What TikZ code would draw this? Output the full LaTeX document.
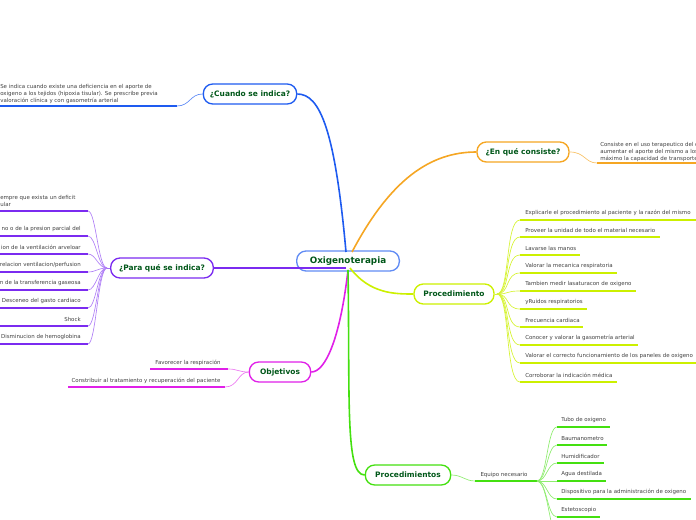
\documentclass[tikz,border=0pt]{standalone}
\usepackage{fontspec}
\setmainfont{DejaVu Sans}
\begin{document}
\begin{tikzpicture}[x=0.75pt,y=-0.75pt,
  main/.style={draw,rounded corners=7pt,line width=1pt,fill=white,minimum height=15pt,font=\fontsize{5.6}{7}\selectfont\bfseries,text=green!30!black!80!teal},
  leaf/.style={font=\fontsize{4.1}{5.2}\selectfont,text=black!75,inner sep=0pt},
  ul/.style={line width=1.3pt},
  br/.style={line width=0.5pt}]
\useasboundingbox (0,0) rectangle (696,520);
\definecolor{colB}{HTML}{1E5BF0}\definecolor{colO}{HTML}{F5A623}\definecolor{colY}{HTML}{CCF000}
\definecolor{colP}{HTML}{7B2BF0}\definecolor{colM}{HTML}{E020E8}\definecolor{colG}{HTML}{44E010}
% central
\node[main,draw=colB!70,minimum width=77pt,font=\fontsize{6.6}{8}\selectfont\bfseries] (c) at (348,261) {Oxigenoterapia};
\node[main,draw=colB,minimum width=70pt] (q) at (250,94) {¿Cuando se indica?};
\node[main,draw=colO,minimum width=69pt] (e) at (523,152) {¿En qué consiste?};
\node[main,draw=colY,minimum width=60pt] (p) at (454,294) {Procedimiento};
\node[main,draw=colP,minimum width=77pt] (pq) at (162,268) {¿Para qué se indica?};
\node[main,draw=colM,minimum width=46pt] (o) at (280,372) {Objetivos};
\node[main,draw=colG,minimum width=64pt] (ps) at (408,475) {Procedimientos};
% trunk edges
\draw[colB,line width=1.2pt] (346,252) .. controls (335,130) and (320,94) .. (q.east);
\draw[colO,line width=1.2pt] (352,252) .. controls (390,180) and (430,152) .. (e.west);
\draw[colY,line width=1.2pt] (350,268) .. controls (370,294) and (395,294) .. (p.west);
\draw[colP,line width=1.2pt] (346,268) .. controls (300,268) and (260,268) .. (pq.east);
\draw[colM,line width=1.2pt] (348,270) .. controls (340,340) and (325,372) .. (o.east);
\draw[colG,line width=1.2pt] (348,270) .. controls (350,400) and (345,475) .. (ps.west);
% cuando leaf
\coordinate (q1) at (177,106);\coordinate (q0) at (0,106);
\draw[colB!70,br] (q.west) .. controls (190,94) and (190,106) .. (q1);
\draw[colB,ul] (q0) -- (q1);
\node[leaf,anchor=west,align=left] (qt) at (0,94) {Se indica cuando existe una deficiencia en el aporte de\\oxigeno a los tejidos (hipoxia tisular). Se prescribe previa\\valoración clínica y con gasometría arterial};
% consiste leaf
\coordinate (e1) at (597,163);\coordinate (e2) at (700,163);
\draw[colO!70,br] (e.east) .. controls (585,152) and (585,163) .. (e1);
\draw[colO,ul] (e1) -- (e2);
\node[leaf,anchor=west,align=left] (et) at (600,152) {Consiste en el uso terapeutico del oxigeno\\aumentar el aporte del mismo a los tejidos\\máximo la capacidad de transporte};
% procedimiento leaves
\coordinate (pb) at (497,294);
\foreach \y/\xe/\t [count=\i] in {220/697/{Explicarle el procedimiento al paciente y la razón del mismo},237/660/{Proveer la unidad de todo el material necesario},255/580/{Lavarse las manos},273/617/{Valorar la mecanica respiratoria},291/636/{Tambien medir lasaturacon de oxigeno},309/587/{yRuidos respiratorios},327/583/{Frecuencia cardiaca},345/638/{Conocer y valorar la gasometría arterial},363/696/{Valorar el correcto funcionamiento de los paneles de oxigeno},382/617/{Corroborar la indicación médica}}{
  \coordinate (pa\i) at (520,\y);
  \draw[colY!80,br] (pb) .. controls (510,294) and (505,\y) .. (pa\i);
  \draw[colY,ul] (pa\i) -- (\xe,\y);
  \node[leaf,anchor=south west] (pt\i) at (525,\y-4) {\t};}
\draw[colY!80,br] (p.east) -- (pb);
% para que leaves
\coordinate (pqb) at (107,268);
\draw[colP!70,br] (pq.west) -- (pqb);
\foreach \y/\t [count=\i] in {236/{no o de la presion parcial del},254/{ion de la ventilación arveloar},272/{relacion ventilacion/perfusion},290/{n de la transferencia gaseosa},308/{Desceneo del gasto cardiaco},326/{Shock},344/{Disminucion de hemoglobina}}{
  \coordinate (qa\i) at (88,\y);
  \draw[colP!60,br] (pqb) .. controls (98,268) and (96,\y) .. (qa\i);
  \draw[colP,ul] (0,\y) -- (qa\i);
  \node[leaf,anchor=south east] (qt\i) at (81,\y-4) {\t};}
\coordinate (qa0) at (88,211);
\draw[colP!60,br] (pqb) .. controls (98,268) and (96,211) .. (qa0);
\draw[colP,ul] (0,211) -- (qa0);
\node[leaf,anchor=south west,align=left] (qt0) at (0,207) {empre que exista un deficit\\ular};
% objetivos leaves
\coordinate (o1) at (228,369);\coordinate (o2) at (225,387);
\draw[colM!60,br] (o.west) .. controls (238,372) and (238,369) .. (o1);
\draw[colM!60,br] (o.west) .. controls (238,372) and (238,387) .. (o2);
\draw[colM,ul] (150,369) -- (o1);
\draw[colM,ul] (68,387) -- (o2);
\node[leaf,anchor=south] (ot1) at (188,366) {Favorecer la respiración};
\node[leaf,anchor=south] (ot2) at (146,384) {Constribuir al tratamiento y recuperación del paciente};
% procedimientos
\coordinate (g1) at (475,481);\coordinate (gb) at (537,481);
\draw[colG!60,br] (ps.east) .. controls (462,475) and (465,481) .. (g1);
\draw[colG,ul] (g1) -- (gb);
\node[leaf,anchor=south] (gt) at (504,478) {Equipo necesario};
\foreach \y/\xe/\t [count=\i] in {427/610/{Tubo de oxigeno},445/607/{Baumanometro},463/604/{Humidificador},481/606/{Agua destilada},499/691/{Dispositivo para la administración de oxigeno},517/600/{Estetoscopio}}{
  \coordinate (ga\i) at (557,\y);
  \draw[colG!60,br] (gb) .. controls (547,481) and (547,\y) .. (ga\i);
  \draw[colG,ul] (ga\i) -- (\xe,\y);
  \node[leaf,anchor=south west] (gt\i) at (561,\y-4) {\t};}
\coordinate (ga7) at (552,525);
\draw[colG!60,br] (gb) .. controls (545,481) and (548,510) .. (ga7);
\end{tikzpicture}
\end{document}
